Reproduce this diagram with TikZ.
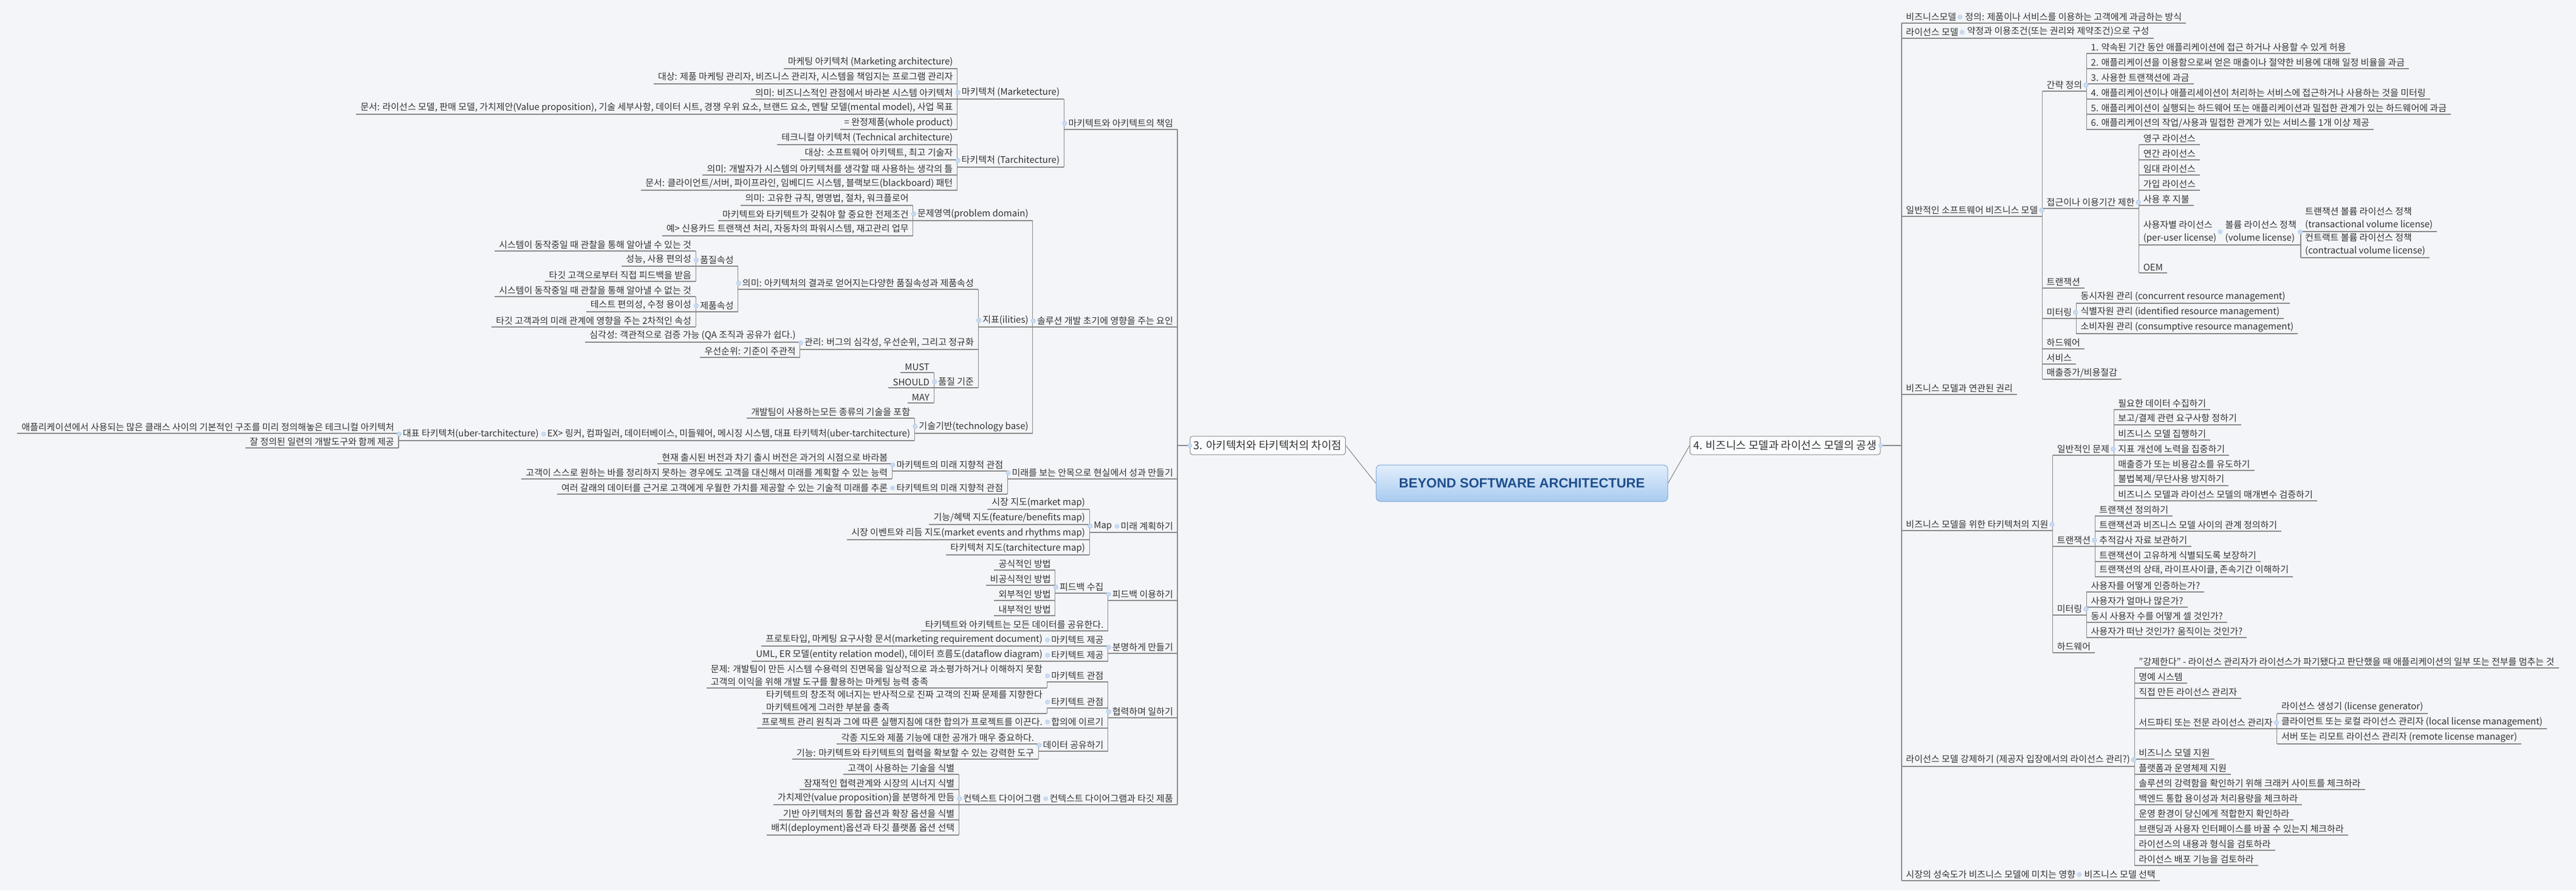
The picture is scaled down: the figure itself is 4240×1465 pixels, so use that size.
\documentclass[tikz,border=0pt]{standalone}
\usepackage{fontspec}
\setmainfont{Noto Sans CJK KR}
\newfontfamily\titlefont{Liberation Sans}
\definecolor{bg}{HTML}{F3F5F9}
\definecolor{lc}{HTML}{8C8C8C}
\definecolor{tc}{HTML}{333333}
\definecolor{ctop}{HTML}{E2EEFB}
\definecolor{cbot}{HTML}{A8CBEF}
\definecolor{cbd}{HTML}{7FA8D4}
\definecolor{ctx}{HTML}{1F4E8C}
\definecolor{knob}{HTML}{C9DCF2}
\newcommand\fs{\fontsize{15}{21}\selectfont}
\tikzset{txt/.style={font=\fs, text=tc, inner xsep=7pt, inner ysep=3pt},
  ln/.style={draw=lc, line width=1.1pt},
  knobst/.style={circle, draw=knob!70!cbd, fill=knob, line width=0.6pt, inner sep=0pt, minimum size=7pt},
  mainbox/.style={draw=lc, line width=1pt, fill=white!60!bg, rounded corners=4pt, font=\fontsize{18}{22}\selectfont, text=tc, inner xsep=6pt, inner ysep=7pt}}
\newcommand\LA[3]{\node[txt,anchor=south east] (#1) at (1938,#2) {#3}; \draw[ln] (#1.south west)--(#1.south east); \draw[ln] (L0) -- (#1.south east);}
\newcommand\LC[4]{\coordinate (tmp) at (0,#3); \node[txt,anchor=south east] (#1) at (#2.south west |- tmp) {#4}; \draw[ln] (#1.south west)--(#1.south east); \draw[ln] (#2.south west) -- (#1.south east); \node[knobst] (k#1) at ([xshift=1pt]#2.west) {};}
\newcommand\LM[4]{\coordinate (tmp) at (0,#3); \node[txt,anchor=south east,align=left] (#1) at (#2.south west |- tmp) {#4}; \draw[ln] (#1.south west)--(#1.south east); \draw[ln] (#2.south west) -- (#1.south east); \node[knobst] (k#1) at ([xshift=1pt]#2.west) {};}
\newcommand\RA[3]{\node[txt,anchor=south west] (#1) at (3130,#2) {#3}; \draw[ln] (#1.south west)--(#1.south east); \draw[ln] (R0) -- (#1.south west);}
\newcommand\RC[4]{\coordinate (tmp) at (0,#3); \node[txt,anchor=south west] (#1) at (#2.south east |- tmp) {#4}; \draw[ln] (#1.south west)--(#1.south east); \draw[ln] (#2.south east) -- (#1.south west); \node[knobst] (k#1) at ([xshift=-1pt]#2.east) {};}
\newcommand\RM[4]{\coordinate (tmp) at (0,#3); \node[txt,anchor=south west,align=left] (#1) at (#2.south east |- tmp) {#4}; \draw[ln] (#1.south west)--(#1.south east); \draw[ln] (#2.south east) -- (#1.south west); \node[knobst] (k#1) at ([xshift=-1pt]#2.east) {};}
\begin{document}
\begin{tikzpicture}[x=1pt,y=-1pt]
\fill[bg] (0,0) rectangle (4240,1465);
\useasboundingbox (0,0) rectangle (4240,1465);
% center
\node[rounded corners=7pt, draw=cbd, line width=1pt, top color=ctop, bottom color=cbot, minimum width=480pt, minimum height=60pt, font=\titlefont\bfseries\fontsize{22}{26}\selectfont, text=ctx] (c) at (2505,795) {BEYOND SOFTWARE ARCHITECTURE};
\node[mainbox,anchor=east] (n3) at (2215,733) {3. 아키텍처와 타키텍처의 차이점};
\node[mainbox,anchor=west] (n4) at (2781,733) {4. 비즈니스 모델과 라이선스 모델의 공생};
\draw[ln] (c.west) -- (n3.east);
\draw[ln] (c.east) -- (n4.west);
\coordinate (L0) at (1938,733);
\draw[ln] (n3.west) -- (L0);
\node[knobst] (k3) at (n3.west) {};
\coordinate (R0) at (3130,733);
\draw[ln] (n4.east) -- (R0);
\node[knobst] (k4) at (n4.east) {};
% ---------------- LEFT
\LA{a1}{213}{마키텍트와 아키텍트의 책임}
\LC{a11}{a1}{163}{마키텍처 (Marketecture)}
\LC{a111}{a11}{113}{마케팅 아키텍처 (Marketing architecture)}
\LC{a112}{a11}{138}{대상: 제품 마케팅 관리자, 비즈니스 관리자, 시스템을 책임지는 프로그램 관리자}
\LC{a113}{a11}{163}{의미: 비즈니스적인 관점에서 바라본 시스템 아키텍처}
\LC{a114}{a11}{188}{문서: 라이선스 모델, 판매 모델, 가치제안(Value proposition), 기술 세부사항, 데이터 시트, 경쟁 우위 요소, 브랜드 요소, 멘탈 모델(mental model), 사업 목표}
\LC{a115}{a11}{213}{= 완정제품(whole product)}
\LC{a12}{a1}{275}{타키텍처 (Tarchitecture)}
\LC{a121}{a12}{238}{테크니컬 아키텍처 (Technical architecture)}
\LC{a122}{a12}{263}{대상: 소프트웨어 아키텍트, 최고 기술자}
\LC{a123}{a12}{288}{의미: 개발자가 시스템의 아키텍처를 생각할 때 사용하는 생각의 틀}
\LC{a124}{a12}{313}{문서: 클라이언트/서버, 파이프라인, 임베디드 시스템, 블랙보드(blackboard) 패턴}
\LA{b1}{538}{솔루션 개발 초기에 영향을 주는 요인}
\LC{b11}{b1}{363}{문제영역(problem domain)}
\LC{b111}{b11}{338}{의미: 고유한 규칙, 명명법, 절차, 워크플로어}
\LC{b112}{b11}{363}{마키텍트와 타키텍트가 갖춰야 할 중요한 전제조건}
\LC{b113}{b11}{388}{예> 신용카드 트랜잭션 처리, 자동차의 파워시스템, 재고관리 업무}
\LC{b12}{b1}{538}{지표(ilities)}
\LC{b121}{b12}{476}{의미: 아키텍처의 결과로 얻어지는다양한 품질속성과 제품속성}
\LC{b1211}{b121}{438}{품질속성}
\LC{q1}{b1211}{413}{시스템이 동작중일 때 관찰을 통해 알아낼 수 있는 것}
\LC{q2}{b1211}{438}{성능, 사용 편의성}
\LC{q3}{b1211}{463}{타깃 고객으로부터 직접 피드백을 받음}
\LC{b1212}{b121}{513}{제품속성}
\LC{p1}{b1212}{488}{시스템이 동작중일 때 관찰을 통해 알아낼 수 없는 것}
\LC{p2}{b1212}{513}{테스트 편의성, 수정 용이성}
\LC{p3}{b1212}{538}{타깃 고객과의 미래 관계에 영향을 주는 2차적인 속성}
\LC{b122}{b12}{575}{관리: 버그의 심각성, 우선순위, 그리고 정규화}
\LC{m1}{b122}{563}{심각성: 객관적으로 검증 가능 (QA 조직과 공유가 쉽다.)}
\LC{m2}{b122}{588}{우선순위: 기준이 주관적}
\LC{b123}{b12}{638}{품질 기준}
\LC{s1}{b123}{613}{MUST}
\LC{s2}{b123}{638}{SHOULD}
\LC{s3}{b123}{663}{MAY}
\LC{b13}{b1}{713}{기술기반(technology base)}
\LC{t1}{b13}{688}{개발팀이 사용하는모든 종류의 기술을 포함}
\LC{t2}{b13}{725}{EX> 링커, 컴파일러, 데이터베이스, 미들웨어, 메시징 시스템, 대표 타키텍처(uber-tarchitecture)}
\LC{t21}{t2}{725}{대표 타키텍처(uber-tarchitecture)}
\LC{t211}{t21}{713}{애플리케이션에서 사용되는 많은 클래스 사이의 기본적인 구조를 미리 정의해놓은 테크니컬 아키텍처}
\LC{t212}{t21}{737}{잘 정의된 일련의 개발도구와 함께 제공}
\LA{c1}{788}{미래를 보는 안목으로 현실에서 성과 만들기}
\LC{c11}{c1}{775}{마키텍트의 미래 지향적 관점}
\LC{c111}{c11}{763}{현재 출시된 버전과 차기 출시 버전은 과거의 시점으로 바라봄}
\LC{c112}{c11}{788}{고객이 스스로 원하는 바를 정리하지 못하는 경우에도 고객을 대신해서 미래를 계획할 수 있는 능력}
\LC{c12}{c1}{813}{타키텍트의 미래 지향적 관점}
\LC{c121}{c12}{813}{여러 갈래의 데이터를 근거로 고객에게 우월한 가치를 제공할 수 있는 기술적 미래를 추론}
\LA{d1}{876}{미래 계획하기}
\LC{d11}{d1}{876}{Map}
\LC{d111}{d11}{838}{시장 지도(market map)}
\LC{d112}{d11}{863}{기능/혜택 지도(feature/benefits map)}
\LC{d113}{d11}{888}{시장 이벤트와 리듬 지도(market events and rhythms map)}
\LC{d114}{d11}{913}{타키텍처 지도(tarchitecture map)}
\LA{e1}{988}{피드백 이용하기}
\LC{e11}{e1}{976}{피드백 수집}
\LC{e111}{e11}{938}{공식적인 방법}
\LC{e112}{e11}{963}{비공식적인 방법}
\LC{e113}{e11}{988}{외부적인 방법}
\LC{e114}{e11}{1013}{내부적인 방법}
\LC{e12}{e1}{1038}{타키텍트와 아키텍트는 모든 데이터를 공유한다.}
\LA{f1}{1075}{분명하게 만들기}
\LC{f11}{f1}{1063}{마키텍트 제공}
\LC{f111}{f11}{1063}{프로토타입, 마케팅 요구사항 문서(marketing requirement document)}
\LC{f12}{f1}{1088}{타키텍트 제공}
\LC{f121}{f12}{1088}{UML, ER 모델(entity relation model), 데이터 흐름도(dataflow diagram)}
\LA{g1}{1181}{협력하며 일하기}
\LC{g11}{g1}{1122}{마키텍트 관점}
\LM{g111}{g11}{1132}{문제: 개발팀이 만든 시스템 수용력의 진면목을 일상적으로 과소평가하거나 이해하지 못함\\고객의 이익을 위해 개발 도구를 활용하는 마케팅 능력 충족}
\LC{g12}{g1}{1165}{타키텍트 관점}
\LM{g121}{g12}{1174}{타키텍트의 창조적 에너지는 반사적으로 진짜 고객의 진짜 문제를 지향한다\\마키텍트에게 그러한 부분을 충족}
\LC{g13}{g1}{1198}{합의에 이르기}
\LC{g131}{g13}{1198}{프로젝트 관리 원칙과 그에 따른 실행지침에 대한 합의가 프로젝트를 이끈다.}
\LC{g14}{g1}{1236}{데이터 공유하기}
\LC{g141}{g14}{1224}{각종 지도와 제품 기능에 대한 공개가 매우 중요하다.}
\LC{g142}{g14}{1249}{기능: 마키텍트와 타키텍트의 협력을 확보할 수 있는 강력한 도구}
\LA{h1}{1324}{컨텍스트 다이어그램과 타깃 제품}
\LC{h11}{h1}{1324}{컨텍스트 다이어그램}
\LC{h111}{h11}{1274}{고객이 사용하는 기술을 식별}
\LC{h112}{h11}{1299}{잠재적인 협력관계와 시장의 시너지 식별}
\LC{h113}{h11}{1324}{가치제안(value proposition)을 분명하게 만듬}
\LC{h114}{h11}{1349}{기반 아키텍처의 통합 옵션과 확장 옵션을 식별}
\LC{h115}{h11}{1374}{배치(deployment)옵션과 타깃 플랫폼 옵션 선택}
% ---------------- RIGHT
\RA{r1}{38}{비즈니스모델}
\RC{r11}{r1}{38}{정의: 제품이나 서비스를 이용하는 고객에게 과금하는 방식}
\RA{r2}{63}{라이선스 모델}
\RC{r21}{r2}{63}{약정과 이용조건(또는 권리와 제약조건)으로 구성}
\RA{r3}{356}{일반적인 소프트웨어 비즈니스 모델}
\RC{r31}{r3}{150}{간략 정의}
\RC{r311}{r31}{88}{1. 약속된 기간 동안 애플리케이션에 접근 하거나 사용할 수 있게 허용}
\RC{r312}{r31}{113}{2. 애플리케이션을 이용함으로써 얻은 매출이나 절약한 비용에 대해 일정 비율을 과금}
\RC{r313}{r31}{138}{3. 사용한 트랜잭션에 과금}
\RC{r314}{r31}{163}{4. 애플리케이션이나 애플리세이션이 처리하는 서비스에 접근하거나 사용하는 것을 미터링}
\RC{r315}{r31}{188}{5. 애플리케이션이 실행되는 하드웨어 또는 애플리케이션과 밀접한 관계가 있는 하드웨어에 과금}
\RC{r316}{r31}{213}{6. 애플리케이션의 작업/사용과 밀접한 관계가 있는 서비스를 1개 이상 제공}
\RC{r32}{r3}{343}{접근이나 이용기간 제한}
\RC{r321}{r32}{238}{영구 라이선스}
\RC{r322}{r32}{263}{연간 라이선스}
\RC{r323}{r32}{288}{임대 라이선스}
\RC{r324}{r32}{313}{가입 라이선스}
\RC{r325}{r32}{338}{사용 후 지불}
\RM{r326}{r32}{403}{사용자별 라이선스\\(per-user license)}
\RM{r3261}{r326}{403}{볼륨 라이선스 정책\\(volume license)}
\RM{v1}{r3261}{381}{트랜잭션 볼륨 라이선스 정책\\(transactional volume license)}
\RM{v2}{r3261}{424}{컨트랙트 볼륨 라이선스 정책\\(contractual volume license)}
\RC{r327}{r32}{449}{OEM}
\RC{r33}{r3}{474}{트랜잭션}
\RC{r34}{r3}{524}{미터링}
\RC{r341}{r34}{499}{동시자원 관리 (concurrent resource management)}
\RC{r342}{r34}{524}{식별자원 관리 (identified resource management)}
\RC{r343}{r34}{549}{소비자원 관리 (consumptive resource management)}
\RC{r35}{r3}{574}{하드웨어}
\RC{r36}{r3}{599}{서비스}
\RC{r37}{r3}{624}{매출증가/비용절감}
\RA{r4}{649}{비즈니스 모델과 연관된 권리}
\RA{r5}{873}{비즈니스 모델을 위한 타키텍처의 지원}
\RC{r51}{r5}{749}{일반적인 문제}
\RC{r511}{r51}{674}{필요한 데이터 수집하기}
\RC{r512}{r51}{699}{보고/결제 관련 요구사항 정하기}
\RC{r513}{r51}{724}{비즈니스 모델 집행하기}
\RC{r514}{r51}{749}{지표 개선에 노력을 집중하기}
\RC{r515}{r51}{774}{매출증가 또는 비용감소를 유도하기}
\RC{r516}{r51}{799}{불법복제/무단사용 방지하기}
\RC{r517}{r51}{824}{비즈니스 모델과 라이선스 모델의 매개변수 검증하기}
\RC{r52}{r5}{899}{트랜잭션}
\RC{r521}{r52}{849}{트랜잭션 정의하기}
\RC{r522}{r52}{874}{트랜잭션과 비즈니스 모델 사이의 관계 정의하기}
\RC{r523}{r52}{899}{추적감사 자료 보관하기}
\RC{r524}{r52}{924}{트랜잭션이 고유하게 식별되도록 보장하기}
\RC{r525}{r52}{949}{트랜잭션의 상태, 라이프사이클, 존속기간 이해하기}
\RC{r53}{r5}{1012}{미터링}
\RC{r531}{r53}{974}{사용자를 어떻게 인증하는가?}
\RC{r532}{r53}{999}{사용자가 얼마나 많은가?}
\RC{r533}{r53}{1024}{동시 사용자 수를 어떻게 셀 것인가?}
\RC{r534}{r53}{1049}{사용자가 떠난 것인가? 움직이는 것인가?}
\RC{r54}{r5}{1074}{하드웨어}
\RA{r6}{1261}{라이선스 모델 강제하기 (제공자 입장에서의 라이선스 관리?)}
\RC{r61}{r6}{1099}{"강제한다" - 라이선스 관리자가 라이선스가 파기됐다고 판단했을 때 애플리케이션의 일부 또는 전부를 멈추는 것}
\RC{r62}{r6}{1124}{명예 시스템}
\RC{r63}{r6}{1149}{직접 만든 라이선스 관리자}
\RC{r64}{r6}{1199}{서드파티 또는 전문 라이선스 관리자}
\RC{r641}{r64}{1174}{라이선스 생성기 (license generator)}
\RC{r642}{r64}{1199}{클라이언트 또는 로컬 라이선스 관리자 (local license management)}
\RC{r643}{r64}{1224}{서버 또는 리모트 라이선스 관리자 (remote license manager)}
\RC{r65}{r6}{1249}{비즈니스 모델 지원}
\RC{r66}{r6}{1274}{플랫폼과 운영체제 지원}
\RC{r67}{r6}{1299}{솔루션의 강력함을 확인하기 위해 크래커 사이트를 체크하라}
\RC{r68}{r6}{1324}{백엔드 통합 용이성과 처리용량을 체크하라}
\RC{r69}{r6}{1349}{운영 환경이 당신에게 적합한지 확인하라}
\RC{r6a}{r6}{1374}{브랜딩과 사용자 인터페이스를 바꿀 수 있는지 체크하라}
\RC{r6b}{r6}{1399}{라이선스의 내용과 형식을 검토하라}
\RC{r6c}{r6}{1424}{라이선스 배포 기능을 검토하라}
\RA{r7}{1449}{시장의 성숙도가 비즈니스 모델에 미치는 영향}
\RC{r71}{r7}{1449}{비즈니스 모델 선택}
\end{tikzpicture}
\end{document}
